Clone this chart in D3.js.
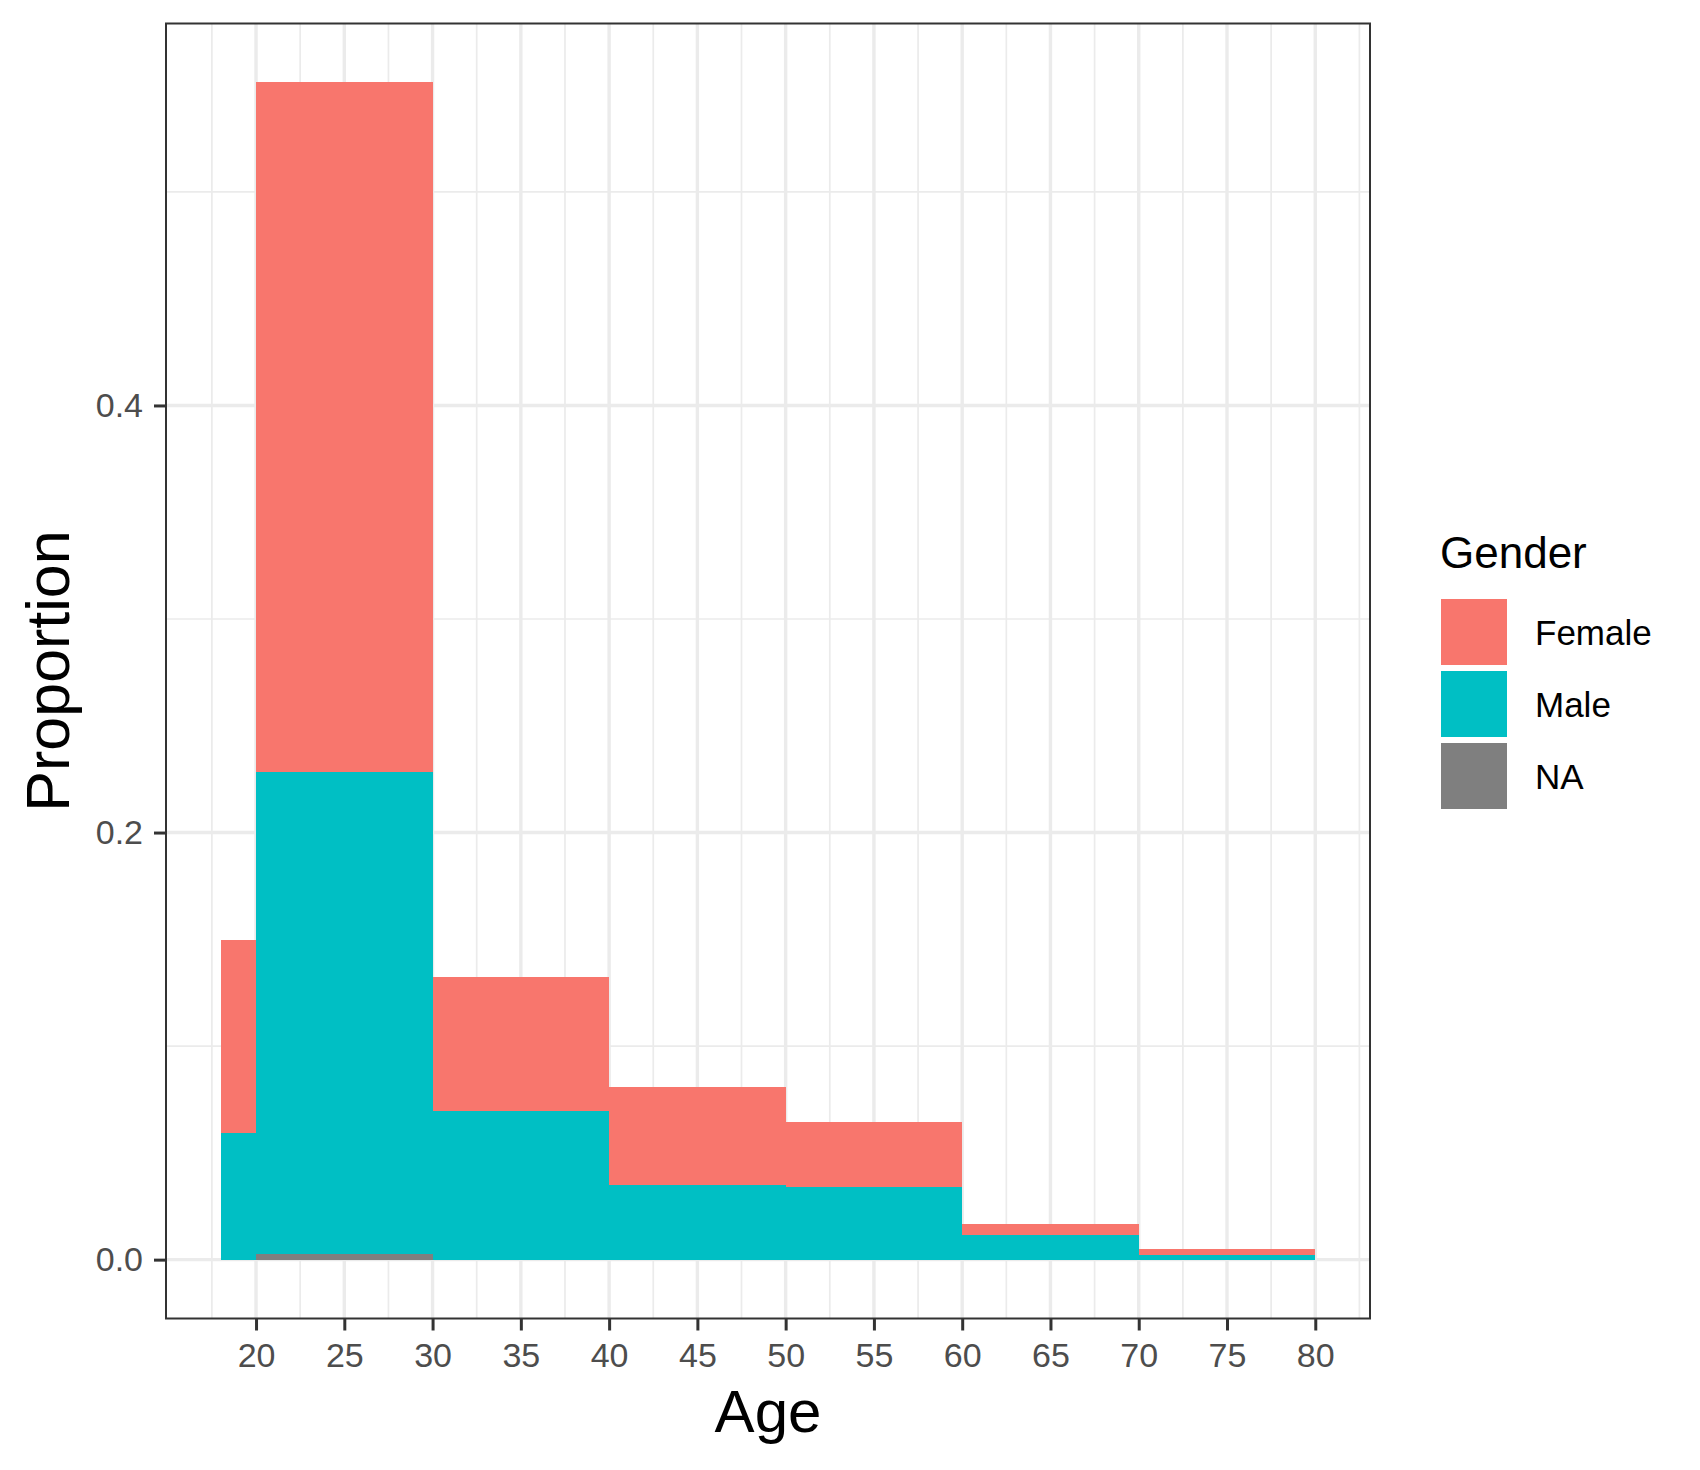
<!DOCTYPE html>
<html>
<head>
<meta charset="utf-8">
<script src="https://cdn.jsdelivr.net/npm/d3@7"></script>
<style>
  body { margin: 0; background: #fff; }
  text { font-family: "Liberation Sans", Arial, sans-serif; }
</style>
</head>
<body>
<script>
// histogram bins (age)
var binStart = [18, 20, 30, 40, 50, 60, 70];
var binEnd = [20, 30, 40, 50, 60, 70, 80];

// proportions per bin, per gender
var female = [0.0902, 0.3229, 0.0626, 0.0458, 0.0304, 0.0054, 0.0031];
var male = [0.0593, 0.2256, 0.0696, 0.0350, 0.0341, 0.0114, 0.0020];
var na = [0, 0.0028, 0, 0, 0, 0, 0];

var genders = ["Female", "Male", "NA"];
var xTicks = [20, 25, 30, 35, 40, 45, 50, 55, 60, 65, 70, 75, 80];
var yTicks = [0, 0.2, 0.4];

var w = 1700, h = 1470;
var panel = { left: 166, right: 1370, top: 23.5, bottom: 1318.5 };
var colors = { Female: "#F8766D", Male: "#00BFC4", NA: "#7F7F7F" };

var rows = binStart.map(function(s, i) {
  return { start: s, end: binEnd[i], Female: female[i], Male: male[i], NA: na[i] };
});

var svg = d3.select("body").append("svg")
    .attr("width", w)
    .attr("height", h);

svg.append("rect").attr("width", w).attr("height", h).attr("fill", "#fff");

// ggplot style 5% expansion on both scales
var xMin = d3.min(binStart), xMax = d3.max(binEnd);
var xPad = (xMax - xMin) * 0.05;
var xScale = d3.scaleLinear()
    .domain([xMin - xPad, xMax + xPad])
    .range([panel.left, panel.right]);

var stack = d3.stack().keys(["NA", "Male", "Female"]);
var series = stack(rows);
var maxY = d3.max(series[series.length - 1], function(d) { return d[1]; });
var yScale = d3.scaleLinear()
    .domain([-maxY * 0.05, maxY * 1.05])
    .range([panel.bottom, panel.top]);

// grid
var xMinor = [17.5].concat(xTicks.map(function(t) { return t + 2.5; }));
var yMinor = [0.1, 0.3, 0.5];
var grid = svg.append("g");
grid.selectAll(".xminor").data(xMinor).enter().append("line")
    .attr("x1", function(d) { return xScale(d); })
    .attr("x2", function(d) { return xScale(d); })
    .attr("y1", panel.top).attr("y2", panel.bottom)
    .attr("stroke", "#EBEBEB").attr("stroke-width", 1.7);
grid.selectAll(".yminor").data(yMinor).enter().append("line")
    .attr("y1", function(d) { return yScale(d); })
    .attr("y2", function(d) { return yScale(d); })
    .attr("x1", panel.left).attr("x2", panel.right)
    .attr("stroke", "#EBEBEB").attr("stroke-width", 1.7);
grid.selectAll(".xmajor").data(xTicks).enter().append("line")
    .attr("x1", function(d) { return xScale(d); })
    .attr("x2", function(d) { return xScale(d); })
    .attr("y1", panel.top).attr("y2", panel.bottom)
    .attr("stroke", "#EBEBEB").attr("stroke-width", 3.4);
grid.selectAll(".ymajor").data(yTicks).enter().append("line")
    .attr("y1", function(d) { return yScale(d); })
    .attr("y2", function(d) { return yScale(d); })
    .attr("x1", panel.left).attr("x2", panel.right)
    .attr("stroke", "#EBEBEB").attr("stroke-width", 3.4);

// stacked bars
svg.append("g").attr("shape-rendering", "crispEdges")
  .selectAll("g").data(series).enter().append("g")
    .attr("fill", function(s) { return colors[s.key]; })
  .selectAll("rect").data(function(s) { return s; }).enter().append("rect")
    .attr("x", function(d) { return xScale(d.data.start); })
    .attr("width", function(d) { return xScale(d.data.end) - xScale(d.data.start); })
    .attr("y", function(d) { return yScale(d[1]); })
    .attr("height", function(d) { return yScale(d[0]) - yScale(d[1]); });

// panel border
svg.append("rect")
    .attr("x", panel.left).attr("y", panel.top)
    .attr("width", panel.right - panel.left)
    .attr("height", panel.bottom - panel.top)
    .attr("fill", "none").attr("stroke", "#333333").attr("stroke-width", 2);

// axes
var xAxis = svg.append("g")
    .attr("transform", "translate(0," + panel.bottom + ")")
    .call(d3.axisBottom(xScale).tickValues(xTicks).tickSize(12).tickPadding(12.5));
var yAxis = svg.append("g")
    .attr("transform", "translate(" + panel.left + ",0)")
    .call(d3.axisLeft(yScale).tickValues(yTicks).tickSize(12).tickPadding(11)
      .tickFormat(d3.format(".1f")));

[xAxis, yAxis].forEach(function(a) {
  a.select(".domain").remove();
  a.selectAll(".tick line").attr("stroke", "#333333").attr("stroke-width", 3);
  a.selectAll(".tick text")
    .attr("fill", "#4D4D4D")
    .style("font-size", "34px")
    .style("font-family", "'Liberation Sans', Arial, sans-serif");
});

// axis titles
svg.append("text")
    .attr("x", (panel.left + panel.right) / 2)
    .attr("y", 1432)
    .attr("text-anchor", "middle")
    .style("font-size", "60px")
    .text("Age");

svg.append("text")
    .attr("transform", "translate(69," + (panel.top + panel.bottom) / 2 + ") rotate(-90)")
    .attr("text-anchor", "middle")
    .style("font-size", "61px")
    .text("Proportion");

// legend
var legend = svg.append("g");
legend.append("text")
    .attr("x", 1440).attr("y", 568)
    .style("font-size", "44px")
    .text("Gender");

var keys = legend.selectAll(".key").data(genders).enter().append("g")
    .attr("transform", function(d, i) { return "translate(1441," + (599 + i * 72) + ")"; });
keys.append("rect")
    .attr("width", 66).attr("height", 66)
    .attr("fill", function(d) { return colors[d]; });
keys.append("text")
    .attr("x", 94).attr("y", 33).attr("dy", "0.36em")
    .style("font-size", "35px")
    .text(function(d) { return d; });
</script>
</body>
</html>
